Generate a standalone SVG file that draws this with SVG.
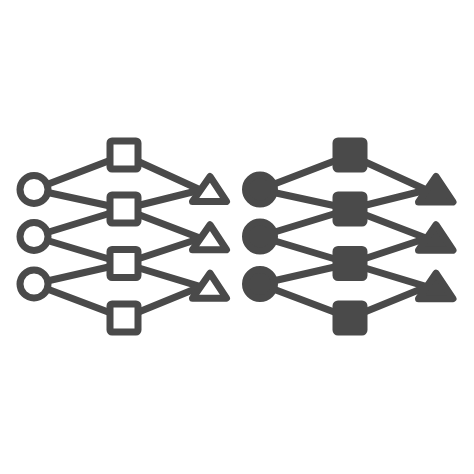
<svg xmlns="http://www.w3.org/2000/svg" width="474" height="474" viewBox="0 0 474 474">
<style>
.ln{stroke:#4a4a4a;stroke-width:7;stroke-linecap:round;fill:none}
.o{stroke:#4a4a4a;stroke-width:7;fill:#fff;stroke-linejoin:round}
.f{stroke:#4a4a4a;stroke-width:7;fill:#4a4a4a;stroke-linejoin:round}
</style>
<rect width="474" height="474" fill="#fff"/>
<g id="connectors">
<!-- left icon -->
<line class="ln" x1="34" y1="189.5" x2="124" y2="155"/>
<line class="ln" x1="34" y1="189.5" x2="124" y2="209"/>
<line class="ln" x1="34" y1="236.5" x2="124" y2="209"/>
<line class="ln" x1="34" y1="236.5" x2="124" y2="263.5"/>
<line class="ln" x1="34" y1="284" x2="124" y2="263.5"/>
<line class="ln" x1="34" y1="284" x2="124" y2="318"/>
<line class="ln" x1="124" y1="155" x2="200.5" y2="190"/>
<line class="ln" x1="124" y1="209" x2="200.5" y2="190"/>
<line class="ln" x1="124" y1="209" x2="200.5" y2="238.3"/>
<line class="ln" x1="124" y1="263.5" x2="200.5" y2="238.3"/>
<line class="ln" x1="124" y1="263.5" x2="200.5" y2="286.7"/>
<line class="ln" x1="124" y1="318" x2="200.5" y2="286.7"/>
<!-- right icon -->
<line class="ln" x1="260" y1="189.5" x2="350" y2="155"/>
<line class="ln" x1="260" y1="189.5" x2="350" y2="209"/>
<line class="ln" x1="260" y1="236.5" x2="350" y2="209"/>
<line class="ln" x1="260" y1="236.5" x2="350" y2="263.5"/>
<line class="ln" x1="260" y1="284" x2="350" y2="263.5"/>
<line class="ln" x1="260" y1="284" x2="350" y2="318"/>
<line class="ln" x1="350" y1="155" x2="426.5" y2="190"/>
<line class="ln" x1="350" y1="209" x2="426.5" y2="190"/>
<line class="ln" x1="350" y1="209" x2="426.5" y2="238.3"/>
<line class="ln" x1="350" y1="263.5" x2="426.5" y2="238.3"/>
<line class="ln" x1="350" y1="263.5" x2="426.5" y2="286.7"/>
<line class="ln" x1="350" y1="318" x2="426.5" y2="286.7"/>
</g>
<g id="lc1"><circle class="o" cx="34" cy="189.5" r="14"/></g>
<g id="lc2"><circle class="o" cx="34" cy="236.5" r="14"/></g>
<g id="lc3"><circle class="o" cx="34" cy="284" r="14"/></g>
<g id="ls1"><rect class="o" x="110" y="141" width="28" height="28" rx="2"/></g>
<g id="ls2"><rect class="o" x="110" y="195" width="28" height="28" rx="2"/></g>
<g id="ls3"><rect class="o" x="110" y="249.5" width="28" height="28" rx="2"/></g>
<g id="ls4"><rect class="o" x="110" y="304" width="28" height="28" rx="2"/></g>
<g id="lt1"><polygon class="o" points="210,176.5 226.5,201.5 192.5,201.5"/></g>
<g id="lt2"><polygon class="o" points="210,224.8 226.5,249.8 192.5,249.8"/></g>
<g id="lt3"><polygon class="o" points="210,273.2 226.5,298.2 192.5,298.2"/></g>
<g id="rc1"><circle class="f" cx="260" cy="189.5" r="14.5"/></g>
<g id="rc2"><circle class="f" cx="260" cy="236.5" r="14.5"/></g>
<g id="rc3"><circle class="f" cx="260" cy="284" r="14.5"/></g>
<g id="rs1"><rect class="f" x="336" y="141" width="28" height="28" rx="2"/></g>
<g id="rs2"><rect class="f" x="336" y="195" width="28" height="28" rx="2"/></g>
<g id="rs3"><rect class="f" x="336" y="249.5" width="28" height="28" rx="2"/></g>
<g id="rs4"><rect class="f" x="336" y="304" width="28" height="28" rx="2"/></g>
<g id="rt1"><polygon class="f" points="436,176.5 453,202 418.5,202"/></g>
<g id="rt2"><polygon class="f" points="436,224.8 453,250.3 418.5,250.3"/></g>
<g id="rt3"><polygon class="f" points="436,273.2 453,298.7 418.5,298.7"/></g>
</svg>
